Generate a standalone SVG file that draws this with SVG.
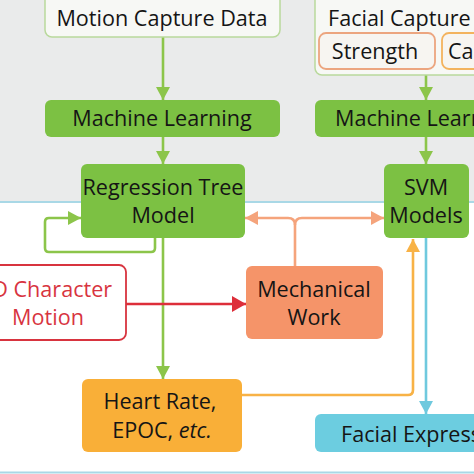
<svg xmlns="http://www.w3.org/2000/svg" width="474" height="474" viewBox="0 0 474 474">
<defs>
<style>
text{font-family:"Open Sans","Noto Sans","Liberation Sans",sans-serif;font-size:21.6px;fill:#151515;text-anchor:middle}
.ln{fill:none;stroke-width:2.6}
.g{stroke:#8cc54a}
.o{stroke:#f5a47c}
.y{stroke:#f8b246}
.b{stroke:#6fc9de}
.r{stroke:#dd2e3a}
.gbox{fill:#7cc143}
</style>
<marker id="ag" markerUnits="userSpaceOnUse" markerWidth="14" markerHeight="14" refX="13" refY="7" orient="auto"><path d="M0,0 L13,7 L0,14 z" fill="#8cc54a"/></marker>
<marker id="ao" markerUnits="userSpaceOnUse" markerWidth="14" markerHeight="14" refX="13" refY="7" orient="auto"><path d="M0,0 L13,7 L0,14 z" fill="#f5a47c"/></marker>
<marker id="ay" markerUnits="userSpaceOnUse" markerWidth="14" markerHeight="14" refX="13" refY="7" orient="auto"><path d="M0,0 L13,7 L0,14 z" fill="#f8b246"/></marker>
<marker id="ab" markerUnits="userSpaceOnUse" markerWidth="14" markerHeight="14" refX="13" refY="7" orient="auto"><path d="M0,0 L13,7 L0,14 z" fill="#6fc9de"/></marker>
<marker id="ar" markerUnits="userSpaceOnUse" markerWidth="16" markerHeight="16" refX="14" refY="8" orient="auto"><path d="M0,0 L14,8 L0,16 z" fill="#dd2e3a"/></marker>
</defs>
<rect x="0" y="0" width="474" height="202" fill="#eaebeb"/>
<rect x="0" y="202" width="474" height="272" fill="#ffffff"/>
<line x1="0" y1="202" x2="474" y2="202" stroke="#a9d8e6" stroke-width="2"/>
<line x1="0" y1="472.5" x2="474" y2="472.5" stroke="#a9d8e6" stroke-width="2"/>

<g id="connectors">
<line class="ln g" x1="163" y1="37" x2="163" y2="100" marker-end="url(#ag)"/>
<line class="ln g" x1="163" y1="137" x2="163" y2="164" marker-end="url(#ag)"/>
<line class="ln g" x1="426" y1="75" x2="426" y2="100" marker-end="url(#ag)"/>
<line class="ln g" x1="426" y1="137" x2="426" y2="164" marker-end="url(#ag)"/>
<path class="ln g" d="M155,238 V248 Q155,252 151,252 H49 Q45,252 45,248 V222 Q45,218 49,218 H81" marker-end="url(#ag)"/>
<line class="ln g" x1="163" y1="238" x2="163" y2="379" marker-end="url(#ag)"/>
<line class="ln r" x1="126" y1="304" x2="246" y2="304" marker-end="url(#ar)"/>
<path class="ln o" d="M295,266 V225 Q295,218 288,218 H245" marker-end="url(#ao)"/>
<path class="ln o" d="M295,225 Q295,218 302,218 H384" marker-end="url(#ao)"/>
<path class="ln y" d="M242,395 H408 Q413,395 413,390 V239" marker-end="url(#ay)"/>
<line class="ln b" x1="426" y1="238" x2="426" y2="414" marker-end="url(#ab)"/>
</g>

<g id="motion-capture">
<rect x="45" y="-8" width="235" height="45" rx="7" fill="#f7f8f5" stroke="#b9d99c" stroke-width="1.5"/>
<text x="162" y="26">Motion Capture Data</text>
</g>
<g id="facial-capture">
<rect x="315" y="-8" width="175" height="83" rx="7" fill="#f7f8f5" stroke="#b9d99c" stroke-width="1.5"/>
<text x="328" y="26" style="text-anchor:start">Facial Capture</text>
</g>
<g id="strength">
<rect x="319" y="33" width="116" height="36" rx="7" fill="#f7f5f1" stroke="#eca57f" stroke-width="1.8"/>
<text x="375" y="59">Strength</text>
</g>
<g id="ca">
<rect x="442" y="33" width="60" height="36" rx="7" fill="#f7f5f1" stroke="#f3b35e" stroke-width="1.8"/>
<text x="448" y="59" style="text-anchor:start">Ca</text>
</g>
<g id="ml-left">
<rect class="gbox" x="45" y="100" width="235" height="37" rx="6"/>
<text x="162" y="126">Machine Learning</text>
</g>
<g id="ml-right">
<rect class="gbox" x="315" y="100" width="200" height="37" rx="6"/>
<text x="335" y="126" style="text-anchor:start">Machine Learning</text>
</g>
<g id="regression-tree">
<rect class="gbox" x="81" y="164" width="164" height="74" rx="6"/>
<text x="163" y="195">Regression Tree</text>
<text x="163" y="223">Model</text>
</g>
<g id="svm">
<rect class="gbox" x="384" y="164" width="85" height="74" rx="6"/>
<text x="426" y="195">SVM</text>
<text x="426" y="223">Models</text>
</g>
<g id="character-motion">
<rect x="-30" y="265" width="156" height="75" rx="7" fill="#ffffff" stroke="#d8343f" stroke-width="1.8"/>
<text x="46" y="297" style="fill:#d8343f">3D Character</text>
<text x="48" y="325" style="fill:#d8343f">Motion</text>
</g>
<g id="mechanical-work">
<rect x="246" y="266" width="137" height="73" rx="6" fill="#f59469"/>
<text x="314" y="297">Mechanical</text>
<text x="314" y="325">Work</text>
</g>
<g id="heart-rate">
<rect x="82" y="379" width="160" height="73" rx="6" fill="#f9af38"/>
<text x="160" y="409">Heart Rate,</text>
<text x="162" y="438">EPOC, <tspan font-style="italic">etc.</tspan></text>
</g>
<g id="facial-expression">
<rect x="315" y="414" width="200" height="38" rx="6" fill="#6ccde0"/>
<text x="341" y="442" style="text-anchor:start">Facial Expression</text>
</g>
</svg>
